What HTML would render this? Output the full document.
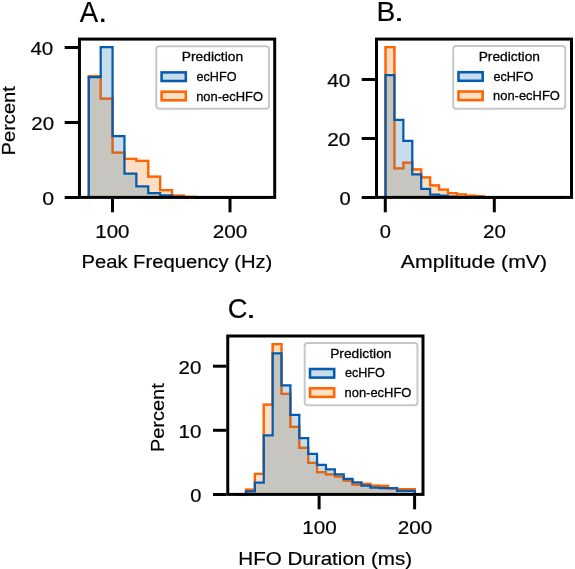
<!DOCTYPE html>
<html><head><meta charset="utf-8"><style>
html,body{margin:0;padding:0;background:#fff;width:575px;height:569px;overflow:hidden}
svg{display:block;will-change:transform}
text{font-family:"Liberation Sans",sans-serif}
</style></head><body>
<svg width="575" height="569" viewBox="0 0 575 569">
<rect width="575" height="569" fill="#fff"/>
<g font-family="Liberation Sans, sans-serif" fill="#000">
<path d="M88.80,197.50 L88.80,76.00 L100.69,76.00 L100.69,98.50 L112.58,98.50 L112.58,152.50 L124.47,152.50 L124.47,158.88 L136.36,158.88 L136.36,160.75 L148.25,160.75 L148.25,176.50 L160.14,176.50 L160.14,190.00 L172.03,190.00 L172.03,195.62 L183.92,195.62 L183.92,196.94 L195.81,196.94 L195.81,197.12 L207.70,197.12 L207.70,197.31 L219.59,197.31 L219.59,197.31 L231.48,197.31 L231.48,197.50 L243.37,197.50 L243.37,197.50 L255.26,197.50 L255.26,197.43 L267.15,197.43 L267.15,197.50" fill="rgba(255,127,14,0.25)" stroke="#ff6400" stroke-width="2.25" stroke-linejoin="miter"/>
<path d="M88.80,197.50 L88.80,77.12 L100.69,77.12 L100.69,47.12 L112.58,47.12 L112.58,136.00 L124.47,136.00 L124.47,173.50 L136.36,173.50 L136.36,186.44 L148.25,186.44 L148.25,193.00 L160.14,193.00 L160.14,195.25 L172.03,195.25 L172.03,196.75 L183.92,196.75 L183.92,197.31 L195.81,197.31 L195.81,197.50 L207.70,197.50 L207.70,197.50 L219.59,197.50 L219.59,197.50 L231.48,197.50 L231.48,197.50 L243.37,197.50 L243.37,197.50 L255.26,197.50 L255.26,197.43 L267.15,197.43 L267.15,197.50" fill="rgba(31,119,180,0.25)" stroke="none"/>
<path d="M88.80,197.50 L88.80,76.00 L100.69,76.00 L100.69,98.50 L112.58,98.50 L112.58,152.50 L124.47,152.50 L124.47,158.88 L136.36,158.88 L136.36,160.75 L148.25,160.75 L148.25,176.50 L160.14,176.50 L160.14,190.00 L172.03,190.00 L172.03,195.62 L183.92,195.62 L183.92,196.94 L195.81,196.94 L195.81,197.12 L207.70,197.12 L207.70,197.31 L219.59,197.31 L219.59,197.31 L231.48,197.31 L231.48,197.50 L243.37,197.50 L243.37,197.50 L255.26,197.50 L255.26,197.43 L267.15,197.43 L267.15,197.50" fill="none" stroke="#ff6400" stroke-opacity="0.45" stroke-width="2.25" stroke-linejoin="miter"/>
<path d="M88.80,197.50 L88.80,77.12 L100.69,77.12 L100.69,47.12 L112.58,47.12 L112.58,136.00 L124.47,136.00 L124.47,173.50 L136.36,173.50 L136.36,186.44 L148.25,186.44 L148.25,193.00 L160.14,193.00 L160.14,195.25 L172.03,195.25 L172.03,196.75 L183.92,196.75 L183.92,197.31 L195.81,197.31 L195.81,197.50 L207.70,197.50 L207.70,197.50 L219.59,197.50 L219.59,197.50 L231.48,197.50 L231.48,197.50 L243.37,197.50 L243.37,197.50 L255.26,197.50 L255.26,197.43 L267.15,197.43 L267.15,197.50" fill="none" stroke="#065cac" stroke-width="2.25" stroke-linejoin="miter"/>
<rect x="79.45" y="39.1" width="195.25" height="158.3" fill="none" stroke="#000" stroke-width="3.0" stroke-linejoin="miter"/>
<line x1="64.7" y1="197.5" x2="78" y2="197.5" stroke="#000" stroke-width="3.0"/>
<line x1="64.7" y1="122.5" x2="78" y2="122.5" stroke="#000" stroke-width="3.0"/>
<line x1="64.7" y1="47.5" x2="78" y2="47.5" stroke="#000" stroke-width="3.0"/>
<line x1="112.5" y1="199" x2="112.5" y2="212.3" stroke="#000" stroke-width="3.0"/>
<line x1="230.0" y1="199" x2="230.0" y2="212.3" stroke="#000" stroke-width="3.0"/>
<rect x="156.30" y="46.30" width="112.70" height="62.50" rx="3" ry="3" fill="rgba(255,255,255,0.8)" stroke="#c8c8c8" stroke-width="2.0"/>
<rect x="161.6" y="72.4" width="24.2" height="8.6" fill="rgba(31,119,180,0.25)" stroke="#065cac" stroke-width="2.55"/>
<rect x="161.6" y="91.7" width="24.2" height="8.6" fill="rgba(255,127,14,0.25)" stroke="#ff6400" stroke-width="2.55"/>
<text x="181.77" y="60.90" font-size="13.08" textLength="61.33" lengthAdjust="spacingAndGlyphs" stroke="#000" stroke-width="0.28">Prediction</text>
<text x="196.56" y="80.80" font-size="13.23" textLength="39.94" lengthAdjust="spacingAndGlyphs" stroke="#000" stroke-width="0.28">ecHFO</text>
<text x="196.14" y="100.50" font-size="13.23" textLength="66.88" lengthAdjust="spacingAndGlyphs" stroke="#000" stroke-width="0.28">non-ecHFO</text>
<path d="M385.50,197.50 L385.50,47.05 L394.43,47.05 L394.43,168.29 L403.35,168.29 L403.35,162.69 L412.27,162.69 L412.27,169.47 L421.20,169.47 L421.20,177.44 L430.12,177.44 L430.12,185.41 L439.05,185.41 L439.05,189.53 L447.98,189.53 L447.98,193.22 L456.90,193.22 L456.90,194.40 L465.82,194.40 L465.82,195.73 L474.75,195.73 L474.75,196.03 L483.68,196.03 L483.68,197.26 L492.60,197.26 L492.60,197.41 L501.52,197.41 L501.52,197.44 L510.45,197.44 L510.45,197.44 L519.38,197.44 L519.38,197.44 L528.30,197.44 L528.30,197.44 L537.23,197.44 L537.23,197.44 L546.15,197.44 L546.15,197.44 L555.08,197.44 L555.08,197.44 L564.00,197.44 L564.00,197.50" fill="rgba(255,127,14,0.25)" stroke="#ff6400" stroke-width="2.25" stroke-linejoin="miter"/>
<path d="M385.50,197.50 L385.50,75.07 L394.43,75.07 L394.43,119.91 L403.35,119.91 L403.35,140.86 L412.27,140.86 L412.27,174.49 L421.20,174.49 L421.20,188.94 L430.12,188.94 L430.12,194.55 L439.05,194.55 L439.05,195.73 L447.98,195.73 L447.98,196.62 L456.90,196.62 L456.90,197.21 L465.82,197.21 L465.82,197.35 L474.75,197.35 L474.75,197.50 L483.68,197.50 L483.68,197.50 L492.60,197.50 L492.60,197.50 L501.52,197.50 L501.52,197.50 L510.45,197.50 L510.45,197.50 L519.38,197.50 L519.38,197.50 L528.30,197.50 L528.30,197.50 L537.23,197.50 L537.23,197.50 L546.15,197.50 L546.15,197.50 L555.08,197.50 L555.08,197.50 L564.00,197.50 L564.00,197.50" fill="rgba(31,119,180,0.25)" stroke="none"/>
<path d="M385.50,197.50 L385.50,47.05 L394.43,47.05 L394.43,168.29 L403.35,168.29 L403.35,162.69 L412.27,162.69 L412.27,169.47 L421.20,169.47 L421.20,177.44 L430.12,177.44 L430.12,185.41 L439.05,185.41 L439.05,189.53 L447.98,189.53 L447.98,193.22 L456.90,193.22 L456.90,194.40 L465.82,194.40 L465.82,195.73 L474.75,195.73 L474.75,196.03 L483.68,196.03 L483.68,197.26 L492.60,197.26 L492.60,197.41 L501.52,197.41 L501.52,197.44 L510.45,197.44 L510.45,197.44 L519.38,197.44 L519.38,197.44 L528.30,197.44 L528.30,197.44 L537.23,197.44 L537.23,197.44 L546.15,197.44 L546.15,197.44 L555.08,197.44 L555.08,197.44 L564.00,197.44 L564.00,197.50" fill="none" stroke="#ff6400" stroke-opacity="0.45" stroke-width="2.25" stroke-linejoin="miter"/>
<path d="M385.50,197.50 L385.50,75.07 L394.43,75.07 L394.43,119.91 L403.35,119.91 L403.35,140.86 L412.27,140.86 L412.27,174.49 L421.20,174.49 L421.20,188.94 L430.12,188.94 L430.12,194.55 L439.05,194.55 L439.05,195.73 L447.98,195.73 L447.98,196.62 L456.90,196.62 L456.90,197.21 L465.82,197.21 L465.82,197.35 L474.75,197.35 L474.75,197.50 L483.68,197.50 L483.68,197.50 L492.60,197.50 L492.60,197.50 L501.52,197.50 L501.52,197.50 L510.45,197.50 L510.45,197.50 L519.38,197.50 L519.38,197.50 L528.30,197.50 L528.30,197.50 L537.23,197.50 L537.23,197.50 L546.15,197.50 L546.15,197.50 L555.08,197.50 L555.08,197.50 L564.00,197.50 L564.00,197.50" fill="none" stroke="#065cac" stroke-width="2.25" stroke-linejoin="miter"/>
<rect x="376.5" y="39.1" width="195.0" height="158.3" fill="none" stroke="#000" stroke-width="3.0" stroke-linejoin="miter"/>
<line x1="361.7" y1="197.5" x2="375" y2="197.5" stroke="#000" stroke-width="3.0"/>
<line x1="361.7" y1="138.5" x2="375" y2="138.5" stroke="#000" stroke-width="3.0"/>
<line x1="361.7" y1="79.5" x2="375" y2="79.5" stroke="#000" stroke-width="3.0"/>
<line x1="385.3" y1="199" x2="385.3" y2="212.3" stroke="#000" stroke-width="3.0"/>
<line x1="494.3" y1="199" x2="494.3" y2="212.3" stroke="#000" stroke-width="3.0"/>
<rect x="453.20" y="46.10" width="112.00" height="62.70" rx="3" ry="3" fill="rgba(255,255,255,0.8)" stroke="#c8c8c8" stroke-width="2.0"/>
<rect x="458.5" y="72.2" width="24.2" height="8.6" fill="rgba(31,119,180,0.25)" stroke="#065cac" stroke-width="2.55"/>
<rect x="458.5" y="91.5" width="24.2" height="8.6" fill="rgba(255,127,14,0.25)" stroke="#ff6400" stroke-width="2.55"/>
<text x="478.67" y="60.70" font-size="13.08" textLength="61.33" lengthAdjust="spacingAndGlyphs" stroke="#000" stroke-width="0.28">Prediction</text>
<text x="493.46" y="80.60" font-size="13.23" textLength="39.94" lengthAdjust="spacingAndGlyphs" stroke="#000" stroke-width="0.28">ecHFO</text>
<text x="493.04" y="100.30" font-size="13.23" textLength="66.88" lengthAdjust="spacingAndGlyphs" stroke="#000" stroke-width="0.28">non-ecHFO</text>
<path d="M237.10,494.50 L237.10,494.50 L245.98,494.50 L245.98,489.50 L254.87,489.50 L254.87,473.97 L263.75,473.97 L263.75,404.69 L272.64,404.69 L272.64,344.07 L281.52,344.07 L281.52,393.78 L290.41,393.78 L290.41,426.82 L299.30,426.82 L299.30,447.99 L308.18,447.99 L308.18,462.75 L317.06,462.75 L317.06,472.05 L325.95,472.05 L325.95,474.29 L334.83,474.29 L334.83,476.54 L343.72,476.54 L343.72,480.71 L352.61,480.71 L352.61,484.56 L361.49,484.56 L361.49,483.92 L370.38,483.92 L370.38,485.71 L379.26,485.71 L379.26,485.90 L388.14,485.90 L388.14,488.41 L397.03,488.41 L397.03,489.11 L405.91,489.11 L405.91,489.11 L414.80,489.11 L414.80,494.50" fill="rgba(255,127,14,0.25)" stroke="#ff6400" stroke-width="2.25" stroke-linejoin="miter"/>
<path d="M237.10,494.50 L237.10,494.50 L245.98,494.50 L245.98,491.48 L254.87,491.48 L254.87,482.57 L263.75,482.57 L263.75,435.48 L272.64,435.48 L272.64,353.37 L281.52,353.37 L281.52,385.44 L290.41,385.44 L290.41,414.95 L299.30,414.95 L299.30,438.05 L308.18,438.05 L308.18,453.76 L317.06,453.76 L317.06,464.99 L325.95,464.99 L325.95,469.48 L334.83,469.48 L334.83,474.29 L343.72,474.29 L343.72,478.78 L352.61,478.78 L352.61,482.31 L361.49,482.31 L361.49,485.52 L370.38,485.52 L370.38,487.57 L379.26,487.57 L379.26,488.08 L388.14,488.08 L388.14,488.21 L397.03,488.21 L397.03,490.78 L405.91,490.78 L405.91,490.78 L414.80,490.78 L414.80,494.50" fill="rgba(31,119,180,0.25)" stroke="none"/>
<path d="M237.10,494.50 L237.10,494.50 L245.98,494.50 L245.98,489.50 L254.87,489.50 L254.87,473.97 L263.75,473.97 L263.75,404.69 L272.64,404.69 L272.64,344.07 L281.52,344.07 L281.52,393.78 L290.41,393.78 L290.41,426.82 L299.30,426.82 L299.30,447.99 L308.18,447.99 L308.18,462.75 L317.06,462.75 L317.06,472.05 L325.95,472.05 L325.95,474.29 L334.83,474.29 L334.83,476.54 L343.72,476.54 L343.72,480.71 L352.61,480.71 L352.61,484.56 L361.49,484.56 L361.49,483.92 L370.38,483.92 L370.38,485.71 L379.26,485.71 L379.26,485.90 L388.14,485.90 L388.14,488.41 L397.03,488.41 L397.03,489.11 L405.91,489.11 L405.91,489.11 L414.80,489.11 L414.80,494.50" fill="none" stroke="#ff6400" stroke-opacity="0.45" stroke-width="2.25" stroke-linejoin="miter"/>
<path d="M237.10,494.50 L237.10,494.50 L245.98,494.50 L245.98,491.48 L254.87,491.48 L254.87,482.57 L263.75,482.57 L263.75,435.48 L272.64,435.48 L272.64,353.37 L281.52,353.37 L281.52,385.44 L290.41,385.44 L290.41,414.95 L299.30,414.95 L299.30,438.05 L308.18,438.05 L308.18,453.76 L317.06,453.76 L317.06,464.99 L325.95,464.99 L325.95,469.48 L334.83,469.48 L334.83,474.29 L343.72,474.29 L343.72,478.78 L352.61,478.78 L352.61,482.31 L361.49,482.31 L361.49,485.52 L370.38,485.52 L370.38,487.57 L379.26,487.57 L379.26,488.08 L388.14,488.08 L388.14,488.21 L397.03,488.21 L397.03,490.78 L405.91,490.78 L405.91,490.78 L414.80,490.78 L414.80,494.50" fill="none" stroke="#065cac" stroke-width="2.25" stroke-linejoin="miter"/>
<rect x="227.75" y="336.0" width="195.25" height="158.39999999999998" fill="none" stroke="#000" stroke-width="3.0" stroke-linejoin="miter"/>
<line x1="213.0" y1="494.5" x2="226.3" y2="494.5" stroke="#000" stroke-width="3.0"/>
<line x1="213.0" y1="430.3" x2="226.3" y2="430.3" stroke="#000" stroke-width="3.0"/>
<line x1="213.0" y1="366.2" x2="226.3" y2="366.2" stroke="#000" stroke-width="3.0"/>
<line x1="319.1" y1="496" x2="319.1" y2="509.3" stroke="#000" stroke-width="3.0"/>
<line x1="414.6" y1="496" x2="414.6" y2="509.3" stroke="#000" stroke-width="3.0"/>
<rect x="304.70" y="342.90" width="112.80" height="62.40" rx="3" ry="3" fill="rgba(255,255,255,0.8)" stroke="#c8c8c8" stroke-width="2.0"/>
<rect x="310.0" y="369.0" width="24.2" height="8.6" fill="rgba(31,119,180,0.25)" stroke="#065cac" stroke-width="2.55"/>
<rect x="310.0" y="388.3" width="24.2" height="8.6" fill="rgba(255,127,14,0.25)" stroke="#ff6400" stroke-width="2.55"/>
<text x="330.17" y="357.50" font-size="13.08" textLength="61.33" lengthAdjust="spacingAndGlyphs" stroke="#000" stroke-width="0.28">Prediction</text>
<text x="344.96" y="377.40" font-size="13.23" textLength="39.94" lengthAdjust="spacingAndGlyphs" stroke="#000" stroke-width="0.28">ecHFO</text>
<text x="344.54" y="397.10" font-size="13.23" textLength="66.88" lengthAdjust="spacingAndGlyphs" stroke="#000" stroke-width="0.28">non-ecHFO</text>
<text x="30.43" y="54.80" font-size="18.90" textLength="22.88" lengthAdjust="spacingAndGlyphs" stroke="#000" stroke-width="0.2">40</text>
<text x="31.27" y="129.80" font-size="18.90" textLength="22.73" lengthAdjust="spacingAndGlyphs" stroke="#000" stroke-width="0.2">20</text>
<text x="42.37" y="204.80" font-size="18.90" textLength="11.87" lengthAdjust="spacingAndGlyphs" stroke="#000" stroke-width="0.2">0</text>
<text x="95.34" y="237.50" font-size="18.90" textLength="34.16" lengthAdjust="spacingAndGlyphs" stroke="#000" stroke-width="0.2">100</text>
<text x="212.66" y="237.60" font-size="18.90" textLength="34.55" lengthAdjust="spacingAndGlyphs" stroke="#000" stroke-width="0.2">200</text>
<text x="327.22" y="87.40" font-size="18.90" textLength="23.09" lengthAdjust="spacingAndGlyphs" stroke="#000" stroke-width="0.2">40</text>
<text x="327.15" y="146.20" font-size="18.90" textLength="23.16" lengthAdjust="spacingAndGlyphs" stroke="#000" stroke-width="0.2">20</text>
<text x="339.62" y="204.50" font-size="18.90" textLength="11.17" lengthAdjust="spacingAndGlyphs" stroke="#000" stroke-width="0.2">0</text>
<text x="379.72" y="237.50" font-size="18.90" textLength="11.17" lengthAdjust="spacingAndGlyphs" stroke="#000" stroke-width="0.2">0</text>
<text x="483.07" y="237.50" font-size="18.90" textLength="22.83" lengthAdjust="spacingAndGlyphs" stroke="#000" stroke-width="0.2">20</text>
<text x="178.57" y="374.20" font-size="18.90" textLength="22.83" lengthAdjust="spacingAndGlyphs" stroke="#000" stroke-width="0.2">20</text>
<text x="178.53" y="437.80" font-size="18.90" textLength="22.87" lengthAdjust="spacingAndGlyphs" stroke="#000" stroke-width="0.2">10</text>
<text x="190.22" y="501.50" font-size="18.90" textLength="11.17" lengthAdjust="spacingAndGlyphs" stroke="#000" stroke-width="0.2">0</text>
<text x="302.23" y="533.80" font-size="18.90" textLength="34.48" lengthAdjust="spacingAndGlyphs" stroke="#000" stroke-width="0.2">100</text>
<text x="397.66" y="534.00" font-size="18.90" textLength="34.55" lengthAdjust="spacingAndGlyphs" stroke="#000" stroke-width="0.2">200</text>
<text x="81.44" y="267.60" font-size="18.90" textLength="190.91" lengthAdjust="spacingAndGlyphs" stroke="#000" stroke-width="0.2">Peak Frequency (Hz)</text>
<text x="400.86" y="267.80" font-size="18.90" textLength="146.16" lengthAdjust="spacingAndGlyphs" stroke="#000" stroke-width="0.2">Amplitude (mV)</text>
<text x="238.31" y="564.50" font-size="18.90" textLength="173.87" lengthAdjust="spacingAndGlyphs" stroke="#000" stroke-width="0.2">HFO Duration (ms)</text>
<text transform="translate(14.80,155.45) rotate(-90)" x="0" y="0" font-size="18.90" textLength="69.30" lengthAdjust="spacingAndGlyphs" stroke="#000" stroke-width="0.2">Percent</text>
<text transform="translate(163.70,452.04) rotate(-90)" x="0" y="0" font-size="18.90" textLength="68.78" lengthAdjust="spacingAndGlyphs" stroke="#000" stroke-width="0.2">Percent</text>
<text x="79.85" y="21.70" font-size="28.78" textLength="18.41" lengthAdjust="spacingAndGlyphs" stroke="#000" stroke-width="0.15">A</text>
<text x="97.93" y="21.70" font-size="28.78" textLength="9.34" lengthAdjust="spacingAndGlyphs" stroke="#000" stroke-width="0.15">.</text>
<text x="376.59" y="21.40" font-size="28.49" textLength="18.80" lengthAdjust="spacingAndGlyphs" stroke="#000" stroke-width="0.15">B</text>
<text x="393.75" y="21.40" font-size="28.49" textLength="10.50" lengthAdjust="spacingAndGlyphs" stroke="#000" stroke-width="0.15">.</text>
<text x="227.81" y="317.60" font-size="28.49" textLength="19.73" lengthAdjust="spacingAndGlyphs" stroke="#000" stroke-width="0.15">C</text>
<text x="245.85" y="317.60" font-size="28.49" textLength="10.50" lengthAdjust="spacingAndGlyphs" stroke="#000" stroke-width="0.15">.</text>
</g></svg>
</body></html>
